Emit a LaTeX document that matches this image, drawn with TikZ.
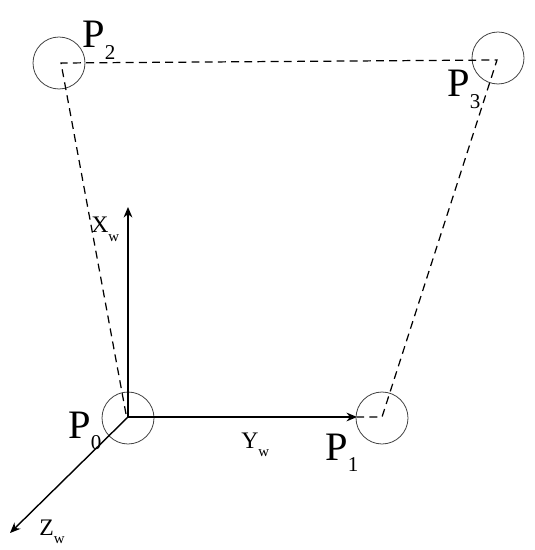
\documentclass[tikz,border=0pt]{standalone}
\usepackage{fontspec}
\setmainfont{Liberation Serif}
\usetikzlibrary{arrows.meta}
\tikzset{
  marker/.style={draw=black!75, line width=0.45pt, circle, minimum size=1.04cm, inner sep=0pt},
  edge/.style={dashed, dash pattern=on 4.5pt off 3pt, line width=0.7pt},
  axis/.style={line width=0.8pt, -{Stealth[length=6pt, width=5pt]}},
  plab/.style={anchor=base west, inner sep=0pt},
}
\newcommand{\pname}[1]{{\fontsize{23}{23}\selectfont P}\raisebox{-6.8pt}{\fontsize{12}{12}\selectfont #1}}
\newcommand{\wname}[1]{{\fontsize{13.5}{13.5}\selectfont #1}\raisebox{-4.8pt}{\fontsize{8.5}{8.5}\selectfont w}}

\begin{document}
\begin{tikzpicture}[x=0.02cm, y=-0.02cm]
        \useasboundingbox (0,0) rectangle (534,550);
        % corner points
        \coordinate (O) at (128,417);
        \coordinate (c0) at (126,414);
        \coordinate (c1) at (382,417);
        \coordinate (c2) at (61,63);
        \coordinate (c3) at (497,60);
        \coordinate (xt) at (128,207);
        \coordinate (yt) at (357,417);
        \coordinate (zt) at (10,533);
        % markers
        \node[marker] (m0) at (128,418) {};
        \node[marker] (m1) at (382,418) {};
        \node[marker] (m2) at (59,63) {};
        \node[marker] (m3) at (498,58) {};
        % dashed quadrilateral
        \draw[edge] (c0) -- (c2) -- (c3) -- (c1) -- (yt);
        % axes
        \draw[axis] (O) -- (xt);
        \draw[axis] (O) -- (yt);
        \draw[axis] (O) -- (zt);
        % labels
        \node[plab] (l0) at (68,438) {\pname{0}};
        \node[plab] (l1) at (325,460) {\pname{1}};
        \node[plab] (l2) at (82,48) {\pname{2}};
        \node[plab] (l3) at (447,97) {\pname{3}};
        \node[plab] (lx) at (91,233) {\wname{X}};
        \node[plab] (ly) at (241,448) {\wname{Y}};
        \node[plab] (lz) at (39,535) {\wname{Z}};
\end{tikzpicture}
\end{document}
